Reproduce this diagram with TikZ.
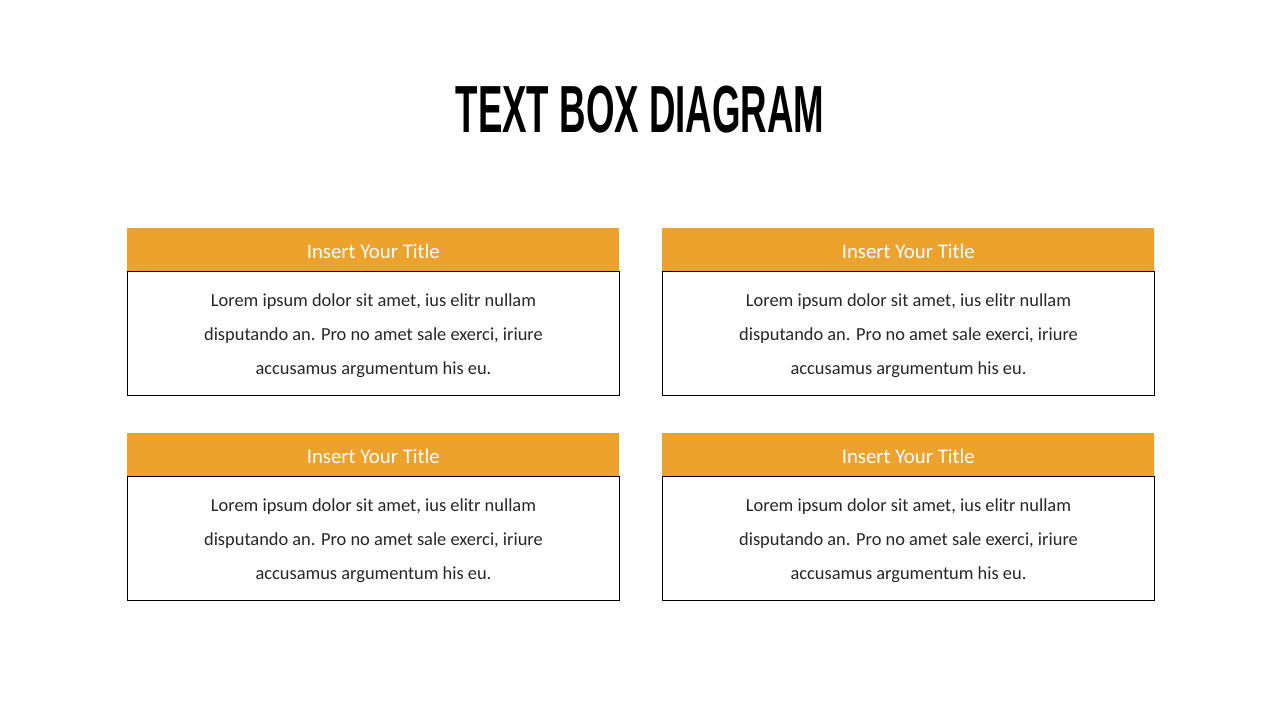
\documentclass[tikz,border=0pt]{standalone}
\usepackage{fontspec}
\setmainfont{Carlito}
\newfontfamily\headfont[FakeStretch=0.55]{Liberation Sans}
\usetikzlibrary{positioning}

\definecolor{boxorange}{HTML}{EEA22E}
\definecolor{bodygray}{HTML}{262626}

\tikzset{
  headbar/.style={rectangle, fill=boxorange, text=white, anchor=north west,
    minimum width=369pt, minimum height=32.25pt, inner sep=0pt,
    text height=13pt, text depth=0pt,
    font=\fontsize{15.6}{18}\selectfont},
  bodybox/.style={rectangle, draw=black, line width=0.75pt, fill=white, text=bodygray,
    minimum width=369pt, minimum height=93pt, inner sep=0pt, align=center,
    font=\fontsize{13.8}{25.5}\selectfont},
  bodytext/.style={text=bodygray, align=center, inner sep=0pt,
    font=\fontsize{13.8}{25.5}\selectfont}
}

\begin{document}
\begin{tikzpicture}[x=0.75pt,y=-0.75pt]
  \useasboundingbox (0,0) rectangle (1280,720);

  % Title
  \node[font=\headfont\bfseries\fontsize{50}{60}\selectfont] (title) at (640,110) {TEXT BOX DIAGRAM};

  % Text boxes
  \foreach \bx/\by/\nm in {127/228/a, 662/228/b, 127/433/c, 662/433/d} {
    \node[bodybox, anchor=north west] (body-\nm) at (\bx,\by+43) {};
    \node[bodytext] (text-\nm) at ([yshift=-1.5pt]body-\nm.center) {Lorem ipsum dolor sit amet, ius elitr nullam\\
      disputando an. Pro no amet sale exerci, iriure\\
      accusamus argumentum his eu.};
    \node[headbar] (head-\nm) at (\bx,\by) {Insert Your Title};
  }
\end{tikzpicture}
\end{document}
